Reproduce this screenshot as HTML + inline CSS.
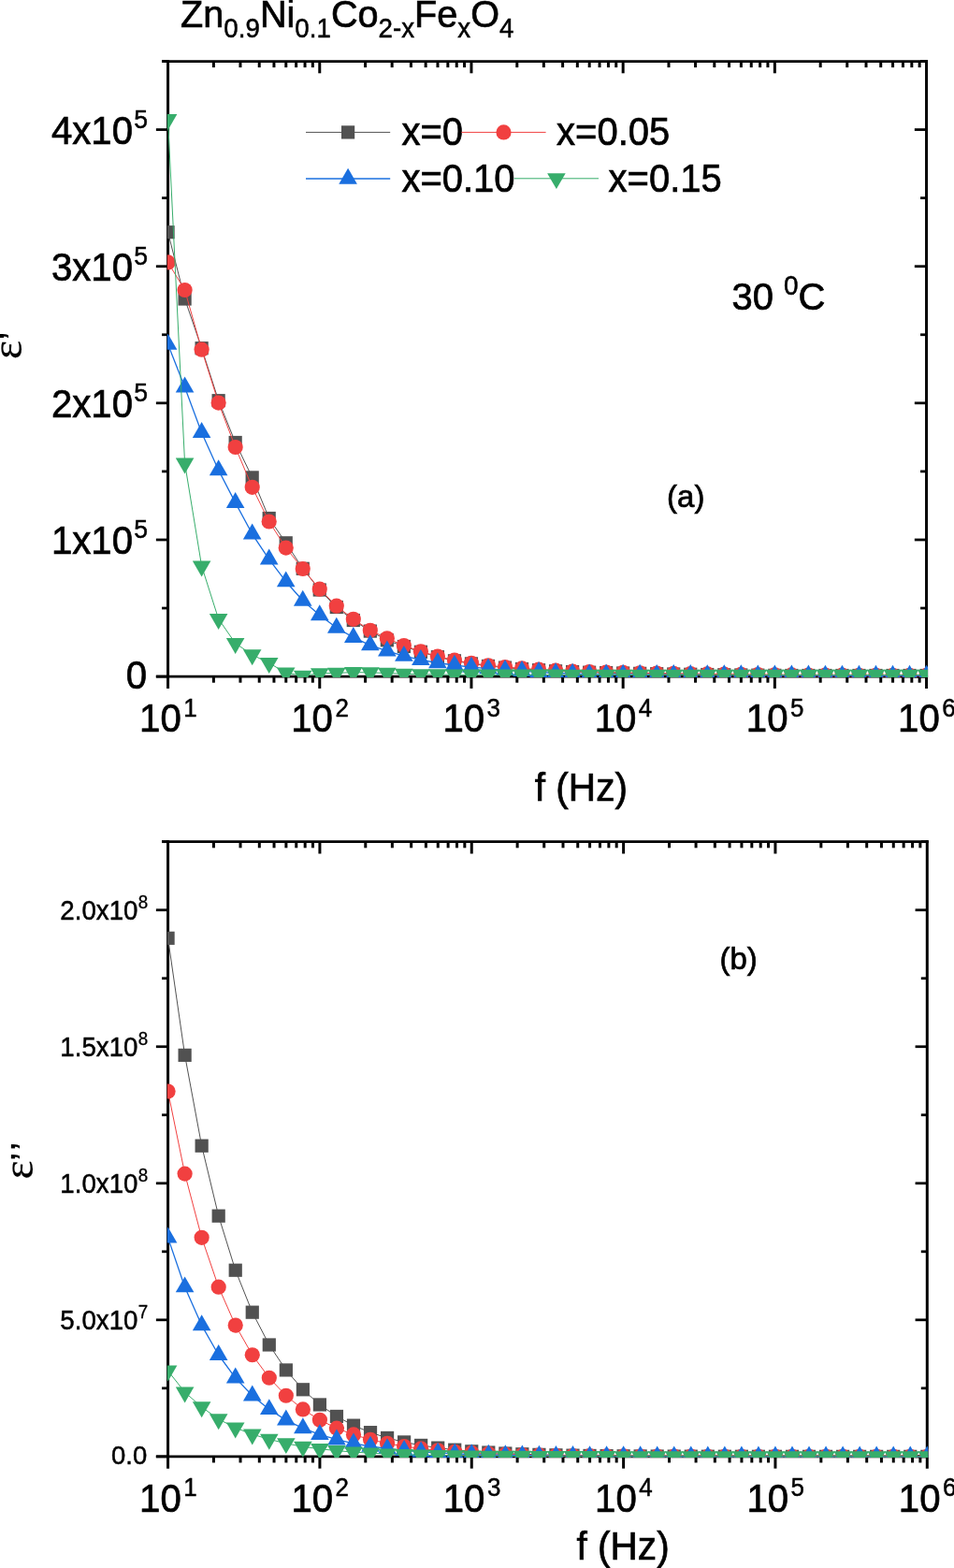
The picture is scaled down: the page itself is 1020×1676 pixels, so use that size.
<!DOCTYPE html>
<html><head><meta charset="utf-8"><title>Dielectric plots</title>
<style>html,body{margin:0;padding:0;background:#fff}svg{display:block}text{font-family:'Liberation Sans',Arial,sans-serif;fill:#000;stroke:#000}text.sf{font-family:'Liberation Serif','Times New Roman',serif}</style></head><body>
<svg width="1020" height="1676" viewBox="0 0 1020 1676">
<rect width="1020" height="1676" fill="#fff"/>
<defs><clipPath id="c1"><rect x="178.77" y="65.5" width="813.28" height="658.5"/></clipPath>
<clipPath id="c2"><rect x="178.77" y="899.7" width="813.58" height="658.2"/></clipPath></defs>
<text transform="translate(193.1,29.4) scale(1,1.035)" font-size="39.65" stroke-width="0.69">Zn<tspan font-size="27.75" stroke-width="0.49" dy="10.63">0.9</tspan><tspan dy="-10.63">Ni</tspan><tspan font-size="27.75" stroke-width="0.49" dy="10.63">0.1</tspan><tspan dy="-10.63">Co</tspan><tspan font-size="27.75" stroke-width="0.49" dy="10.63">2-x</tspan><tspan dy="-10.63">Fe</tspan><tspan font-size="27.75" stroke-width="0.49" dy="10.63">x</tspan><tspan dy="-10.63">O</tspan><tspan font-size="27.75" stroke-width="0.49" dy="10.63">4</tspan></text>
<g stroke="#000" stroke-width="3" fill="none" stroke-linecap="butt">
<line x1="179.57" y1="64.13" x2="179.57" y2="735.9"/>
<line x1="990.55" y1="64.13" x2="990.55" y2="735.9"/>
<line x1="173.07" y1="65.5" x2="992.05" y2="65.5" stroke-width="2.75"/>
<line x1="166.87" y1="723.1" x2="992.05" y2="723.1" stroke-width="2.75"/>
<line x1="228.4" y1="723.1" x2="228.4" y2="729.7"/>
<line x1="228.4" y1="65.5" x2="228.4" y2="72.1"/>
<line x1="256.96" y1="723.1" x2="256.96" y2="729.7"/>
<line x1="256.96" y1="65.5" x2="256.96" y2="72.1"/>
<line x1="277.22" y1="723.1" x2="277.22" y2="729.7"/>
<line x1="277.22" y1="65.5" x2="277.22" y2="72.1"/>
<line x1="292.94" y1="723.1" x2="292.94" y2="729.7"/>
<line x1="292.94" y1="65.5" x2="292.94" y2="72.1"/>
<line x1="305.78" y1="723.1" x2="305.78" y2="729.7"/>
<line x1="305.78" y1="65.5" x2="305.78" y2="72.1"/>
<line x1="316.64" y1="723.1" x2="316.64" y2="729.7"/>
<line x1="316.64" y1="65.5" x2="316.64" y2="72.1"/>
<line x1="326.05" y1="723.1" x2="326.05" y2="729.7"/>
<line x1="326.05" y1="65.5" x2="326.05" y2="72.1"/>
<line x1="334.34" y1="723.1" x2="334.34" y2="729.7"/>
<line x1="334.34" y1="65.5" x2="334.34" y2="72.1"/>
<line x1="341.77" y1="723.1" x2="341.77" y2="735.9"/>
<line x1="341.77" y1="65.5" x2="341.77" y2="78.3"/>
<line x1="390.59" y1="723.1" x2="390.59" y2="729.7"/>
<line x1="390.59" y1="65.5" x2="390.59" y2="72.1"/>
<line x1="419.15" y1="723.1" x2="419.15" y2="729.7"/>
<line x1="419.15" y1="65.5" x2="419.15" y2="72.1"/>
<line x1="439.42" y1="723.1" x2="439.42" y2="729.7"/>
<line x1="439.42" y1="65.5" x2="439.42" y2="72.1"/>
<line x1="455.14" y1="723.1" x2="455.14" y2="729.7"/>
<line x1="455.14" y1="65.5" x2="455.14" y2="72.1"/>
<line x1="467.98" y1="723.1" x2="467.98" y2="729.7"/>
<line x1="467.98" y1="65.5" x2="467.98" y2="72.1"/>
<line x1="478.84" y1="723.1" x2="478.84" y2="729.7"/>
<line x1="478.84" y1="65.5" x2="478.84" y2="72.1"/>
<line x1="488.24" y1="723.1" x2="488.24" y2="729.7"/>
<line x1="488.24" y1="65.5" x2="488.24" y2="72.1"/>
<line x1="496.54" y1="723.1" x2="496.54" y2="729.7"/>
<line x1="496.54" y1="65.5" x2="496.54" y2="72.1"/>
<line x1="503.96" y1="723.1" x2="503.96" y2="735.9"/>
<line x1="503.96" y1="65.5" x2="503.96" y2="78.3"/>
<line x1="552.79" y1="723.1" x2="552.79" y2="729.7"/>
<line x1="552.79" y1="65.5" x2="552.79" y2="72.1"/>
<line x1="581.35" y1="723.1" x2="581.35" y2="729.7"/>
<line x1="581.35" y1="65.5" x2="581.35" y2="72.1"/>
<line x1="601.61" y1="723.1" x2="601.61" y2="729.7"/>
<line x1="601.61" y1="65.5" x2="601.61" y2="72.1"/>
<line x1="617.33" y1="723.1" x2="617.33" y2="729.7"/>
<line x1="617.33" y1="65.5" x2="617.33" y2="72.1"/>
<line x1="630.18" y1="723.1" x2="630.18" y2="729.7"/>
<line x1="630.18" y1="65.5" x2="630.18" y2="72.1"/>
<line x1="641.03" y1="723.1" x2="641.03" y2="729.7"/>
<line x1="641.03" y1="65.5" x2="641.03" y2="72.1"/>
<line x1="650.44" y1="723.1" x2="650.44" y2="729.7"/>
<line x1="650.44" y1="65.5" x2="650.44" y2="72.1"/>
<line x1="658.74" y1="723.1" x2="658.74" y2="729.7"/>
<line x1="658.74" y1="65.5" x2="658.74" y2="72.1"/>
<line x1="666.16" y1="723.1" x2="666.16" y2="735.9"/>
<line x1="666.16" y1="65.5" x2="666.16" y2="78.3"/>
<line x1="714.98" y1="723.1" x2="714.98" y2="729.7"/>
<line x1="714.98" y1="65.5" x2="714.98" y2="72.1"/>
<line x1="743.55" y1="723.1" x2="743.55" y2="729.7"/>
<line x1="743.55" y1="65.5" x2="743.55" y2="72.1"/>
<line x1="763.81" y1="723.1" x2="763.81" y2="729.7"/>
<line x1="763.81" y1="65.5" x2="763.81" y2="72.1"/>
<line x1="779.53" y1="723.1" x2="779.53" y2="729.7"/>
<line x1="779.53" y1="65.5" x2="779.53" y2="72.1"/>
<line x1="792.37" y1="723.1" x2="792.37" y2="729.7"/>
<line x1="792.37" y1="65.5" x2="792.37" y2="72.1"/>
<line x1="803.23" y1="723.1" x2="803.23" y2="729.7"/>
<line x1="803.23" y1="65.5" x2="803.23" y2="72.1"/>
<line x1="812.64" y1="723.1" x2="812.64" y2="729.7"/>
<line x1="812.64" y1="65.5" x2="812.64" y2="72.1"/>
<line x1="820.93" y1="723.1" x2="820.93" y2="729.7"/>
<line x1="820.93" y1="65.5" x2="820.93" y2="72.1"/>
<line x1="828.35" y1="723.1" x2="828.35" y2="735.9"/>
<line x1="828.35" y1="65.5" x2="828.35" y2="78.3"/>
<line x1="877.18" y1="723.1" x2="877.18" y2="729.7"/>
<line x1="877.18" y1="65.5" x2="877.18" y2="72.1"/>
<line x1="905.74" y1="723.1" x2="905.74" y2="729.7"/>
<line x1="905.74" y1="65.5" x2="905.74" y2="72.1"/>
<line x1="926.01" y1="723.1" x2="926.01" y2="729.7"/>
<line x1="926.01" y1="65.5" x2="926.01" y2="72.1"/>
<line x1="941.72" y1="723.1" x2="941.72" y2="729.7"/>
<line x1="941.72" y1="65.5" x2="941.72" y2="72.1"/>
<line x1="954.57" y1="723.1" x2="954.57" y2="729.7"/>
<line x1="954.57" y1="65.5" x2="954.57" y2="72.1"/>
<line x1="965.43" y1="723.1" x2="965.43" y2="729.7"/>
<line x1="965.43" y1="65.5" x2="965.43" y2="72.1"/>
<line x1="974.83" y1="723.1" x2="974.83" y2="729.7"/>
<line x1="974.83" y1="65.5" x2="974.83" y2="72.1"/>
<line x1="983.13" y1="723.1" x2="983.13" y2="729.7"/>
<line x1="983.13" y1="65.5" x2="983.13" y2="72.1"/>
<line x1="166.87" y1="723.1" x2="179.57" y2="723.1" stroke-width="2.75"/>
<line x1="977.85" y1="723.1" x2="990.55" y2="723.1" stroke-width="2.75"/>
<line x1="166.87" y1="576.97" x2="179.57" y2="576.97" stroke-width="2.75"/>
<line x1="977.85" y1="576.97" x2="990.55" y2="576.97" stroke-width="2.75"/>
<line x1="166.87" y1="430.83" x2="179.57" y2="430.83" stroke-width="2.75"/>
<line x1="977.85" y1="430.83" x2="990.55" y2="430.83" stroke-width="2.75"/>
<line x1="166.87" y1="284.7" x2="179.57" y2="284.7" stroke-width="2.75"/>
<line x1="977.85" y1="284.7" x2="990.55" y2="284.7" stroke-width="2.75"/>
<line x1="166.87" y1="138.57" x2="179.57" y2="138.57" stroke-width="2.75"/>
<line x1="977.85" y1="138.57" x2="990.55" y2="138.57" stroke-width="2.75"/>
<line x1="173.07" y1="650.03" x2="179.57" y2="650.03" stroke-width="2.75"/>
<line x1="984.05" y1="650.03" x2="990.55" y2="650.03" stroke-width="2.75"/>
<line x1="173.07" y1="503.9" x2="179.57" y2="503.9" stroke-width="2.75"/>
<line x1="984.05" y1="503.9" x2="990.55" y2="503.9" stroke-width="2.75"/>
<line x1="173.07" y1="357.77" x2="179.57" y2="357.77" stroke-width="2.75"/>
<line x1="984.05" y1="357.77" x2="990.55" y2="357.77" stroke-width="2.75"/>
<line x1="173.07" y1="211.63" x2="179.57" y2="211.63" stroke-width="2.75"/>
<line x1="984.05" y1="211.63" x2="990.55" y2="211.63" stroke-width="2.75"/>
<line x1="173.07" y1="65.5" x2="179.57" y2="65.5" stroke-width="2.75"/>
<line x1="984.05" y1="65.5" x2="990.55" y2="65.5" stroke-width="2.75"/>
</g>
<text transform="translate(157,735.6) scale(1,1.035)" font-size="40.2" text-anchor="end" stroke-width="0.7">0</text>
<text transform="translate(158,592.37) scale(1,1.035)" font-size="40.2" text-anchor="end" stroke-width="0.7">1x10<tspan font-size="26.6" stroke-width="0.47" dx="1.2" dy="-16.81">5</tspan></text>
<text transform="translate(158,446.23) scale(1,1.035)" font-size="40.2" text-anchor="end" stroke-width="0.7">2x10<tspan font-size="26.6" stroke-width="0.47" dx="1.2" dy="-16.81">5</tspan></text>
<text transform="translate(158,300.1) scale(1,1.035)" font-size="40.2" text-anchor="end" stroke-width="0.7">3x10<tspan font-size="26.6" stroke-width="0.47" dx="1.2" dy="-16.81">5</tspan></text>
<text transform="translate(158,153.97) scale(1,1.035)" font-size="40.2" text-anchor="end" stroke-width="0.7">4x10<tspan font-size="26.6" stroke-width="0.47" dx="1.2" dy="-16.81">5</tspan></text>
<text transform="translate(179.87,782.3) scale(1,1.035)" font-size="40.2" text-anchor="middle" stroke-width="0.7">10<tspan font-size="26" stroke-width="0.46" dx="2.5" dy="-16.14">1</tspan></text>
<text transform="translate(342.07,782.3) scale(1,1.035)" font-size="40.2" text-anchor="middle" stroke-width="0.7">10<tspan font-size="26" stroke-width="0.46" dx="2.5" dy="-16.14">2</tspan></text>
<text transform="translate(504.26,782.3) scale(1,1.035)" font-size="40.2" text-anchor="middle" stroke-width="0.7">10<tspan font-size="26" stroke-width="0.46" dx="2.5" dy="-16.14">3</tspan></text>
<text transform="translate(666.46,782.3) scale(1,1.035)" font-size="40.2" text-anchor="middle" stroke-width="0.7">10<tspan font-size="26" stroke-width="0.46" dx="2.5" dy="-16.14">4</tspan></text>
<text transform="translate(828.65,782.3) scale(1,1.035)" font-size="40.2" text-anchor="middle" stroke-width="0.7">10<tspan font-size="26" stroke-width="0.46" dx="2.5" dy="-16.14">5</tspan></text>
<text transform="translate(990.85,782.3) scale(1,1.035)" font-size="40.2" text-anchor="middle" stroke-width="0.7">10<tspan font-size="26" stroke-width="0.46" dx="2.5" dy="-16.14">6</tspan></text>
<text transform="translate(571.8,856) scale(1,1.035)" font-size="40.6" stroke-width="0.71">f (Hz)</text>
<text class="sf" transform="translate(23,384) rotate(-90) scale(1,0.945)" font-size="48" stroke-width="0.2">ε</text>
<text transform="translate(28.4,363.5) rotate(-90)" font-size="40" stroke-width="0.3">’</text>
<line x1="327" y1="141.4" x2="417.2" y2="141.4" stroke="#515151" stroke-width="1.0"/><rect x="365" y="134.3" width="14.2" height="14.2" fill="#515151"/><text transform="translate(429.4,155.2) scale(1,1.05)" font-size="40" stroke-width="0.7">x=0</text>
<line x1="493.4" y1="141.4" x2="583.6" y2="141.4" stroke="#F14040" stroke-width="1.0"/><circle cx="538.5" cy="141.4" r="8.1" fill="#F14040"/><text transform="translate(595.1,155.2) scale(1,1.05)" font-size="40" stroke-width="0.7">x=0.05</text>
<line x1="327" y1="191" x2="417.2" y2="191" stroke="#1A6FDF" stroke-width="1.3"/><polygon points="362.3,196.66 381.9,196.66 372.1,179.68" fill="#1A6FDF"/><text transform="translate(429.4,204.8) scale(1,1.05)" font-size="40" stroke-width="0.7">x=0.10</text>
<line x1="549.8" y1="190.8" x2="640" y2="190.8" stroke="#37AD6B" stroke-width="1.0"/><polygon points="585.1,185.14 604.7,185.14 594.9,202.12" fill="#37AD6B"/><text transform="translate(650.6,204.6) scale(1,1.05)" font-size="40" stroke-width="0.7">x=0.15</text>
<text transform="translate(782.4,330.7) scale(1,1.035)" font-size="40" stroke-width="0.7">30 <tspan font-size="28" stroke-width="0.49" dx="0" dy="-15.07">0</tspan><tspan dy="15.07">C</tspan></text>
<text transform="translate(733.2,542.1) scale(1,1.035)" font-size="33" text-anchor="middle" stroke-width="0.7">(a)</text>
<g clip-path="url(#c1)">
<polyline points="179.57,248.2 197.59,319.5 215.61,372.2 233.64,428.2 251.66,473 269.68,510.4 287.7,554 305.72,580.3 323.74,607.8 341.77,630.5 359.79,649 377.81,663 395.83,674.6 413.85,684.3 431.87,691 449.9,696.8 467.92,702.2 485.94,706.3 503.96,709.4 521.98,711.9 540.01,713.6 558.03,715 576.05,716.2 594.07,717.3 612.09,718.1 630.11,718.7 648.14,719.11 666.16,719.49 684.18,719.84 702.2,720.17 720.22,720.48 738.25,720.77 756.27,721.03 774.29,721.26 792.31,721.48 810.33,721.67 828.35,721.84 846.38,721.99 864.4,722 882.42,722 900.44,722 918.46,722 936.48,722 954.51,722 972.53,722 990.55,722" fill="none" stroke="#515151" stroke-width="1.0" stroke-linejoin="round"/>
<rect x="172.47" y="241.1" width="14.2" height="14.2" fill="#515151"/>
<rect x="190.49" y="312.4" width="14.2" height="14.2" fill="#515151"/>
<rect x="208.51" y="365.1" width="14.2" height="14.2" fill="#515151"/>
<rect x="226.54" y="421.1" width="14.2" height="14.2" fill="#515151"/>
<rect x="244.56" y="465.9" width="14.2" height="14.2" fill="#515151"/>
<rect x="262.58" y="503.3" width="14.2" height="14.2" fill="#515151"/>
<rect x="280.6" y="546.9" width="14.2" height="14.2" fill="#515151"/>
<rect x="298.62" y="573.2" width="14.2" height="14.2" fill="#515151"/>
<rect x="316.64" y="600.7" width="14.2" height="14.2" fill="#515151"/>
<rect x="334.67" y="623.4" width="14.2" height="14.2" fill="#515151"/>
<rect x="352.69" y="641.9" width="14.2" height="14.2" fill="#515151"/>
<rect x="370.71" y="655.9" width="14.2" height="14.2" fill="#515151"/>
<rect x="388.73" y="667.5" width="14.2" height="14.2" fill="#515151"/>
<rect x="406.75" y="677.2" width="14.2" height="14.2" fill="#515151"/>
<rect x="424.77" y="683.9" width="14.2" height="14.2" fill="#515151"/>
<rect x="442.8" y="689.7" width="14.2" height="14.2" fill="#515151"/>
<rect x="460.82" y="695.1" width="14.2" height="14.2" fill="#515151"/>
<rect x="478.84" y="699.2" width="14.2" height="14.2" fill="#515151"/>
<rect x="496.86" y="702.3" width="14.2" height="14.2" fill="#515151"/>
<rect x="514.88" y="704.8" width="14.2" height="14.2" fill="#515151"/>
<rect x="532.91" y="706.5" width="14.2" height="14.2" fill="#515151"/>
<rect x="550.93" y="707.9" width="14.2" height="14.2" fill="#515151"/>
<rect x="568.95" y="709.1" width="14.2" height="14.2" fill="#515151"/>
<rect x="586.97" y="710.2" width="14.2" height="14.2" fill="#515151"/>
<rect x="604.99" y="711" width="14.2" height="14.2" fill="#515151"/>
<rect x="623.01" y="711.6" width="14.2" height="14.2" fill="#515151"/>
<rect x="641.04" y="712.01" width="14.2" height="14.2" fill="#515151"/>
<rect x="659.06" y="712.39" width="14.2" height="14.2" fill="#515151"/>
<rect x="677.08" y="712.74" width="14.2" height="14.2" fill="#515151"/>
<rect x="695.1" y="713.07" width="14.2" height="14.2" fill="#515151"/>
<rect x="713.12" y="713.38" width="14.2" height="14.2" fill="#515151"/>
<rect x="731.15" y="713.67" width="14.2" height="14.2" fill="#515151"/>
<rect x="749.17" y="713.93" width="14.2" height="14.2" fill="#515151"/>
<rect x="767.19" y="714.16" width="14.2" height="14.2" fill="#515151"/>
<rect x="785.21" y="714.38" width="14.2" height="14.2" fill="#515151"/>
<rect x="803.23" y="714.57" width="14.2" height="14.2" fill="#515151"/>
<rect x="821.25" y="714.74" width="14.2" height="14.2" fill="#515151"/>
<rect x="839.28" y="714.89" width="14.2" height="14.2" fill="#515151"/>
<rect x="857.3" y="714.9" width="14.2" height="14.2" fill="#515151"/>
<rect x="875.32" y="714.9" width="14.2" height="14.2" fill="#515151"/>
<rect x="893.34" y="714.9" width="14.2" height="14.2" fill="#515151"/>
<rect x="911.36" y="714.9" width="14.2" height="14.2" fill="#515151"/>
<rect x="929.38" y="714.9" width="14.2" height="14.2" fill="#515151"/>
<rect x="947.41" y="714.9" width="14.2" height="14.2" fill="#515151"/>
<rect x="965.43" y="714.9" width="14.2" height="14.2" fill="#515151"/>
<rect x="983.45" y="714.9" width="14.2" height="14.2" fill="#515151"/>
<polyline points="179.57,280.4 197.59,310 215.61,373.7 233.64,430.6 251.66,478 269.68,520.8 287.7,557.5 305.72,585.6 323.74,608 341.77,629.7 359.79,647.7 377.81,661.8 395.83,673.8 413.85,682.3 431.87,690 449.9,696.3 467.92,701.6 485.94,705.7 503.96,708.8 521.98,711.3 540.01,713 558.03,714.4 576.05,715.6 594.07,716.7 612.09,717.5 630.11,718.1 648.14,718.51 666.16,718.89 684.18,719.24 702.2,719.57 720.22,719.88 738.25,720.17 756.27,720.43 774.29,720.66 792.31,720.88 810.33,721.07 828.35,721.24 846.38,721.39 864.4,721.52 882.42,721.63 900.44,721.72 918.46,721.79 936.48,721.84 954.51,721.88 972.53,721.89 990.55,721.9" fill="none" stroke="#F14040" stroke-width="1.0" stroke-linejoin="round"/>
<circle cx="179.57" cy="280.4" r="8.1" fill="#F14040"/>
<circle cx="197.59" cy="310" r="8.1" fill="#F14040"/>
<circle cx="215.61" cy="373.7" r="8.1" fill="#F14040"/>
<circle cx="233.64" cy="430.6" r="8.1" fill="#F14040"/>
<circle cx="251.66" cy="478" r="8.1" fill="#F14040"/>
<circle cx="269.68" cy="520.8" r="8.1" fill="#F14040"/>
<circle cx="287.7" cy="557.5" r="8.1" fill="#F14040"/>
<circle cx="305.72" cy="585.6" r="8.1" fill="#F14040"/>
<circle cx="323.74" cy="608" r="8.1" fill="#F14040"/>
<circle cx="341.77" cy="629.7" r="8.1" fill="#F14040"/>
<circle cx="359.79" cy="647.7" r="8.1" fill="#F14040"/>
<circle cx="377.81" cy="661.8" r="8.1" fill="#F14040"/>
<circle cx="395.83" cy="673.8" r="8.1" fill="#F14040"/>
<circle cx="413.85" cy="682.3" r="8.1" fill="#F14040"/>
<circle cx="431.87" cy="690" r="8.1" fill="#F14040"/>
<circle cx="449.9" cy="696.3" r="8.1" fill="#F14040"/>
<circle cx="467.92" cy="701.6" r="8.1" fill="#F14040"/>
<circle cx="485.94" cy="705.7" r="8.1" fill="#F14040"/>
<circle cx="503.96" cy="708.8" r="8.1" fill="#F14040"/>
<circle cx="521.98" cy="711.3" r="8.1" fill="#F14040"/>
<circle cx="540.01" cy="713" r="8.1" fill="#F14040"/>
<circle cx="558.03" cy="714.4" r="8.1" fill="#F14040"/>
<circle cx="576.05" cy="715.6" r="8.1" fill="#F14040"/>
<circle cx="594.07" cy="716.7" r="8.1" fill="#F14040"/>
<circle cx="612.09" cy="717.5" r="8.1" fill="#F14040"/>
<circle cx="630.11" cy="718.1" r="8.1" fill="#F14040"/>
<circle cx="648.14" cy="718.51" r="8.1" fill="#F14040"/>
<circle cx="666.16" cy="718.89" r="8.1" fill="#F14040"/>
<circle cx="684.18" cy="719.24" r="8.1" fill="#F14040"/>
<circle cx="702.2" cy="719.57" r="8.1" fill="#F14040"/>
<circle cx="720.22" cy="719.88" r="8.1" fill="#F14040"/>
<circle cx="738.25" cy="720.17" r="8.1" fill="#F14040"/>
<circle cx="756.27" cy="720.43" r="8.1" fill="#F14040"/>
<circle cx="774.29" cy="720.66" r="8.1" fill="#F14040"/>
<circle cx="792.31" cy="720.88" r="8.1" fill="#F14040"/>
<circle cx="810.33" cy="721.07" r="8.1" fill="#F14040"/>
<circle cx="828.35" cy="721.24" r="8.1" fill="#F14040"/>
<circle cx="846.38" cy="721.39" r="8.1" fill="#F14040"/>
<circle cx="864.4" cy="721.52" r="8.1" fill="#F14040"/>
<circle cx="882.42" cy="721.63" r="8.1" fill="#F14040"/>
<circle cx="900.44" cy="721.72" r="8.1" fill="#F14040"/>
<circle cx="918.46" cy="721.79" r="8.1" fill="#F14040"/>
<circle cx="936.48" cy="721.84" r="8.1" fill="#F14040"/>
<circle cx="954.51" cy="721.88" r="8.1" fill="#F14040"/>
<circle cx="972.53" cy="721.89" r="8.1" fill="#F14040"/>
<circle cx="990.55" cy="721.9" r="8.1" fill="#F14040"/>
<polyline points="179.57,368 197.59,413.9 215.61,462.4 233.64,502.5 251.66,537.4 269.68,570.8 287.7,597.9 305.72,621.7 323.74,642 341.77,657.5 359.79,671.1 377.81,681.3 395.83,689.6 413.85,695.8 431.87,701.2 449.9,705.4 467.92,708.5 485.94,711 503.96,713.1 521.98,714.7 540.01,716.4 558.03,717.4 576.05,718.4 594.07,719.5 612.09,720.1 630.11,720.7 648.14,720.84 666.16,720.97 684.18,721.09 702.2,721.2 720.22,721.31 738.25,721.41 756.27,721.51 774.29,721.6 792.31,721.68 810.33,721.75 828.35,721.82 846.38,721.88 864.4,721.93 882.42,721.97 900.44,722.01 918.46,722.04 936.48,722.07 954.51,722.09 972.53,722.1 990.55,722.1" fill="none" stroke="#1A6FDF" stroke-width="1.3" stroke-linejoin="round"/>
<polygon points="169.77,373.66 189.37,373.66 179.57,356.68" fill="#1A6FDF"/>
<polygon points="187.79,419.56 207.39,419.56 197.59,402.58" fill="#1A6FDF"/>
<polygon points="205.81,468.06 225.41,468.06 215.61,451.08" fill="#1A6FDF"/>
<polygon points="223.84,508.16 243.44,508.16 233.64,491.18" fill="#1A6FDF"/>
<polygon points="241.86,543.06 261.46,543.06 251.66,526.08" fill="#1A6FDF"/>
<polygon points="259.88,576.46 279.48,576.46 269.68,559.48" fill="#1A6FDF"/>
<polygon points="277.9,603.56 297.5,603.56 287.7,586.58" fill="#1A6FDF"/>
<polygon points="295.92,627.36 315.52,627.36 305.72,610.38" fill="#1A6FDF"/>
<polygon points="313.94,647.66 333.54,647.66 323.74,630.68" fill="#1A6FDF"/>
<polygon points="331.97,663.16 351.57,663.16 341.77,646.18" fill="#1A6FDF"/>
<polygon points="349.99,676.76 369.59,676.76 359.79,659.78" fill="#1A6FDF"/>
<polygon points="368.01,686.96 387.61,686.96 377.81,669.98" fill="#1A6FDF"/>
<polygon points="386.03,695.26 405.63,695.26 395.83,678.28" fill="#1A6FDF"/>
<polygon points="404.05,701.46 423.65,701.46 413.85,684.48" fill="#1A6FDF"/>
<polygon points="422.07,706.86 441.67,706.86 431.87,689.88" fill="#1A6FDF"/>
<polygon points="440.1,711.06 459.7,711.06 449.9,694.08" fill="#1A6FDF"/>
<polygon points="458.12,714.16 477.72,714.16 467.92,697.18" fill="#1A6FDF"/>
<polygon points="476.14,716.66 495.74,716.66 485.94,699.68" fill="#1A6FDF"/>
<polygon points="494.16,718.76 513.76,718.76 503.96,701.78" fill="#1A6FDF"/>
<polygon points="512.18,720.36 531.78,720.36 521.98,703.38" fill="#1A6FDF"/>
<polygon points="530.21,722.06 549.81,722.06 540.01,705.08" fill="#1A6FDF"/>
<polygon points="548.23,723.06 567.83,723.06 558.03,706.08" fill="#1A6FDF"/>
<polygon points="566.25,724.06 585.85,724.06 576.05,707.08" fill="#1A6FDF"/>
<polygon points="584.27,725.16 603.87,725.16 594.07,708.18" fill="#1A6FDF"/>
<polygon points="602.29,725.76 621.89,725.76 612.09,708.78" fill="#1A6FDF"/>
<polygon points="620.31,726.36 639.91,726.36 630.11,709.38" fill="#1A6FDF"/>
<polygon points="638.34,726.49 657.94,726.49 648.14,709.52" fill="#1A6FDF"/>
<polygon points="656.36,726.62 675.96,726.62 666.16,709.65" fill="#1A6FDF"/>
<polygon points="674.38,726.75 693.98,726.75 684.18,709.77" fill="#1A6FDF"/>
<polygon points="692.4,726.86 712,726.86 702.2,709.89" fill="#1A6FDF"/>
<polygon points="710.42,726.97 730.02,726.97 720.22,710" fill="#1A6FDF"/>
<polygon points="728.45,727.07 748.05,727.07 738.25,710.1" fill="#1A6FDF"/>
<polygon points="746.47,727.17 766.07,727.17 756.27,710.19" fill="#1A6FDF"/>
<polygon points="764.49,727.25 784.09,727.25 774.29,710.28" fill="#1A6FDF"/>
<polygon points="782.51,727.33 802.11,727.33 792.31,710.36" fill="#1A6FDF"/>
<polygon points="800.53,727.41 820.13,727.41 810.33,710.43" fill="#1A6FDF"/>
<polygon points="818.55,727.47 838.15,727.47 828.35,710.5" fill="#1A6FDF"/>
<polygon points="836.58,727.53 856.18,727.53 846.38,710.56" fill="#1A6FDF"/>
<polygon points="854.6,727.59 874.2,727.59 864.4,710.61" fill="#1A6FDF"/>
<polygon points="872.62,727.63 892.22,727.63 882.42,710.66" fill="#1A6FDF"/>
<polygon points="890.64,727.67 910.24,727.67 900.44,710.7" fill="#1A6FDF"/>
<polygon points="908.66,727.7 928.26,727.7 918.46,710.73" fill="#1A6FDF"/>
<polygon points="926.68,727.73 946.28,727.73 936.48,710.75" fill="#1A6FDF"/>
<polygon points="944.71,727.74 964.31,727.74 954.51,710.77" fill="#1A6FDF"/>
<polygon points="962.73,727.75 982.33,727.75 972.53,710.78" fill="#1A6FDF"/>
<polygon points="980.75,727.76 1000.35,727.76 990.55,710.78" fill="#1A6FDF"/>
<polyline points="179.57,127.7 197.59,495.1 215.61,605.1 233.64,661.6 251.66,687.6 269.68,699.9 287.7,708.7 305.72,719.2 323.74,722.3 341.77,719.8 359.79,719.4 377.81,718.6 395.83,718.9 413.85,719.5 431.87,720.3 449.9,720.8 467.92,721 485.94,721.2 503.96,721.21 521.98,721.23 540.01,721.24 558.03,721.25 576.05,721.27 594.07,721.28 612.09,721.29 630.11,721.3 648.14,721.31 666.16,721.32 684.18,721.33 702.2,721.33 720.22,721.34 738.25,721.35 756.27,721.36 774.29,721.36 792.31,721.37 810.33,721.37 828.35,721.38 846.38,721.38 864.4,721.39 882.42,721.39 900.44,721.39 918.46,721.4 936.48,721.4 954.51,721.4 972.53,721.4 990.55,721.4" fill="none" stroke="#37AD6B" stroke-width="1.0" stroke-linejoin="round"/>
<polygon points="169.77,122.04 189.37,122.04 179.57,139.02" fill="#37AD6B"/>
<polygon points="187.79,489.44 207.39,489.44 197.59,506.42" fill="#37AD6B"/>
<polygon points="205.81,599.44 225.41,599.44 215.61,616.42" fill="#37AD6B"/>
<polygon points="223.84,655.94 243.44,655.94 233.64,672.92" fill="#37AD6B"/>
<polygon points="241.86,681.94 261.46,681.94 251.66,698.92" fill="#37AD6B"/>
<polygon points="259.88,694.24 279.48,694.24 269.68,711.22" fill="#37AD6B"/>
<polygon points="277.9,703.04 297.5,703.04 287.7,720.02" fill="#37AD6B"/>
<polygon points="295.92,713.54 315.52,713.54 305.72,730.52" fill="#37AD6B"/>
<polygon points="313.94,716.64 333.54,716.64 323.74,733.62" fill="#37AD6B"/>
<polygon points="331.97,714.14 351.57,714.14 341.77,731.12" fill="#37AD6B"/>
<polygon points="349.99,713.74 369.59,713.74 359.79,730.72" fill="#37AD6B"/>
<polygon points="368.01,712.94 387.61,712.94 377.81,729.92" fill="#37AD6B"/>
<polygon points="386.03,713.24 405.63,713.24 395.83,730.22" fill="#37AD6B"/>
<polygon points="404.05,713.84 423.65,713.84 413.85,730.82" fill="#37AD6B"/>
<polygon points="422.07,714.64 441.67,714.64 431.87,731.62" fill="#37AD6B"/>
<polygon points="440.1,715.14 459.7,715.14 449.9,732.12" fill="#37AD6B"/>
<polygon points="458.12,715.34 477.72,715.34 467.92,732.32" fill="#37AD6B"/>
<polygon points="476.14,715.54 495.74,715.54 485.94,732.52" fill="#37AD6B"/>
<polygon points="494.16,715.56 513.76,715.56 503.96,732.53" fill="#37AD6B"/>
<polygon points="512.18,715.57 531.78,715.57 521.98,732.54" fill="#37AD6B"/>
<polygon points="530.21,715.58 549.81,715.58 540.01,732.56" fill="#37AD6B"/>
<polygon points="548.23,715.6 567.83,715.6 558.03,732.57" fill="#37AD6B"/>
<polygon points="566.25,715.61 585.85,715.61 576.05,732.58" fill="#37AD6B"/>
<polygon points="584.27,715.62 603.87,715.62 594.07,732.59" fill="#37AD6B"/>
<polygon points="602.29,715.63 621.89,715.63 612.09,732.6" fill="#37AD6B"/>
<polygon points="620.31,715.64 639.91,715.64 630.11,732.61" fill="#37AD6B"/>
<polygon points="638.34,715.65 657.94,715.65 648.14,732.62" fill="#37AD6B"/>
<polygon points="656.36,715.66 675.96,715.66 666.16,732.63" fill="#37AD6B"/>
<polygon points="674.38,715.67 693.98,715.67 684.18,732.64" fill="#37AD6B"/>
<polygon points="692.4,715.68 712,715.68 702.2,732.65" fill="#37AD6B"/>
<polygon points="710.42,715.68 730.02,715.68 720.22,732.66" fill="#37AD6B"/>
<polygon points="728.45,715.69 748.05,715.69 738.25,732.67" fill="#37AD6B"/>
<polygon points="746.47,715.7 766.07,715.7 756.27,732.67" fill="#37AD6B"/>
<polygon points="764.49,715.71 784.09,715.71 774.29,732.68" fill="#37AD6B"/>
<polygon points="782.51,715.71 802.11,715.71 792.31,732.68" fill="#37AD6B"/>
<polygon points="800.53,715.72 820.13,715.72 810.33,732.69" fill="#37AD6B"/>
<polygon points="818.55,715.72 838.15,715.72 828.35,732.7" fill="#37AD6B"/>
<polygon points="836.58,715.73 856.18,715.73 846.38,732.7" fill="#37AD6B"/>
<polygon points="854.6,715.73 874.2,715.73 864.4,732.7" fill="#37AD6B"/>
<polygon points="872.62,715.73 892.22,715.73 882.42,732.71" fill="#37AD6B"/>
<polygon points="890.64,715.74 910.24,715.74 900.44,732.71" fill="#37AD6B"/>
<polygon points="908.66,715.74 928.26,715.74 918.46,732.71" fill="#37AD6B"/>
<polygon points="926.68,715.74 946.28,715.74 936.48,732.71" fill="#37AD6B"/>
<polygon points="944.71,715.74 964.31,715.74 954.51,732.71" fill="#37AD6B"/>
<polygon points="962.73,715.74 982.33,715.74 972.53,732.72" fill="#37AD6B"/>
<polygon points="980.75,715.74 1000.35,715.74 990.55,732.72" fill="#37AD6B"/>
</g>
<g stroke="#000" stroke-width="3" fill="none" stroke-linecap="butt">
<line x1="179.57" y1="898.33" x2="179.57" y2="1569.65"/>
<line x1="991.3" y1="898.33" x2="991.3" y2="1569.65"/>
<line x1="173.07" y1="899.7" x2="992.8" y2="899.7" stroke-width="2.75"/>
<line x1="166.87" y1="1556.85" x2="992.8" y2="1556.85" stroke-width="2.75"/>
<line x1="228.44" y1="1556.85" x2="228.44" y2="1563.45"/>
<line x1="228.44" y1="899.7" x2="228.44" y2="906.3"/>
<line x1="257.03" y1="1556.85" x2="257.03" y2="1563.45"/>
<line x1="257.03" y1="899.7" x2="257.03" y2="906.3"/>
<line x1="277.31" y1="1556.85" x2="277.31" y2="1563.45"/>
<line x1="277.31" y1="899.7" x2="277.31" y2="906.3"/>
<line x1="293.04" y1="1556.85" x2="293.04" y2="1563.45"/>
<line x1="293.04" y1="899.7" x2="293.04" y2="906.3"/>
<line x1="305.9" y1="1556.85" x2="305.9" y2="1563.45"/>
<line x1="305.9" y1="899.7" x2="305.9" y2="906.3"/>
<line x1="316.77" y1="1556.85" x2="316.77" y2="1563.45"/>
<line x1="316.77" y1="899.7" x2="316.77" y2="906.3"/>
<line x1="326.18" y1="1556.85" x2="326.18" y2="1563.45"/>
<line x1="326.18" y1="899.7" x2="326.18" y2="906.3"/>
<line x1="334.49" y1="1556.85" x2="334.49" y2="1563.45"/>
<line x1="334.49" y1="899.7" x2="334.49" y2="906.3"/>
<line x1="341.92" y1="1556.85" x2="341.92" y2="1569.65"/>
<line x1="341.92" y1="899.7" x2="341.92" y2="912.5"/>
<line x1="390.79" y1="1556.85" x2="390.79" y2="1563.45"/>
<line x1="390.79" y1="899.7" x2="390.79" y2="906.3"/>
<line x1="419.37" y1="1556.85" x2="419.37" y2="1563.45"/>
<line x1="419.37" y1="899.7" x2="419.37" y2="906.3"/>
<line x1="439.66" y1="1556.85" x2="439.66" y2="1563.45"/>
<line x1="439.66" y1="899.7" x2="439.66" y2="906.3"/>
<line x1="455.39" y1="1556.85" x2="455.39" y2="1563.45"/>
<line x1="455.39" y1="899.7" x2="455.39" y2="906.3"/>
<line x1="468.25" y1="1556.85" x2="468.25" y2="1563.45"/>
<line x1="468.25" y1="899.7" x2="468.25" y2="906.3"/>
<line x1="479.11" y1="1556.85" x2="479.11" y2="1563.45"/>
<line x1="479.11" y1="899.7" x2="479.11" y2="906.3"/>
<line x1="488.53" y1="1556.85" x2="488.53" y2="1563.45"/>
<line x1="488.53" y1="899.7" x2="488.53" y2="906.3"/>
<line x1="496.83" y1="1556.85" x2="496.83" y2="1563.45"/>
<line x1="496.83" y1="899.7" x2="496.83" y2="906.3"/>
<line x1="504.26" y1="1556.85" x2="504.26" y2="1569.65"/>
<line x1="504.26" y1="899.7" x2="504.26" y2="912.5"/>
<line x1="553.13" y1="1556.85" x2="553.13" y2="1563.45"/>
<line x1="553.13" y1="899.7" x2="553.13" y2="906.3"/>
<line x1="581.72" y1="1556.85" x2="581.72" y2="1563.45"/>
<line x1="581.72" y1="899.7" x2="581.72" y2="906.3"/>
<line x1="602" y1="1556.85" x2="602" y2="1563.45"/>
<line x1="602" y1="899.7" x2="602" y2="906.3"/>
<line x1="617.74" y1="1556.85" x2="617.74" y2="1563.45"/>
<line x1="617.74" y1="899.7" x2="617.74" y2="906.3"/>
<line x1="630.59" y1="1556.85" x2="630.59" y2="1563.45"/>
<line x1="630.59" y1="899.7" x2="630.59" y2="906.3"/>
<line x1="641.46" y1="1556.85" x2="641.46" y2="1563.45"/>
<line x1="641.46" y1="899.7" x2="641.46" y2="906.3"/>
<line x1="650.88" y1="1556.85" x2="650.88" y2="1563.45"/>
<line x1="650.88" y1="899.7" x2="650.88" y2="906.3"/>
<line x1="659.18" y1="1556.85" x2="659.18" y2="1563.45"/>
<line x1="659.18" y1="899.7" x2="659.18" y2="906.3"/>
<line x1="666.61" y1="1556.85" x2="666.61" y2="1569.65"/>
<line x1="666.61" y1="899.7" x2="666.61" y2="912.5"/>
<line x1="715.48" y1="1556.85" x2="715.48" y2="1563.45"/>
<line x1="715.48" y1="899.7" x2="715.48" y2="906.3"/>
<line x1="744.07" y1="1556.85" x2="744.07" y2="1563.45"/>
<line x1="744.07" y1="899.7" x2="744.07" y2="906.3"/>
<line x1="764.35" y1="1556.85" x2="764.35" y2="1563.45"/>
<line x1="764.35" y1="899.7" x2="764.35" y2="906.3"/>
<line x1="780.08" y1="1556.85" x2="780.08" y2="1563.45"/>
<line x1="780.08" y1="899.7" x2="780.08" y2="906.3"/>
<line x1="792.94" y1="1556.85" x2="792.94" y2="1563.45"/>
<line x1="792.94" y1="899.7" x2="792.94" y2="906.3"/>
<line x1="803.81" y1="1556.85" x2="803.81" y2="1563.45"/>
<line x1="803.81" y1="899.7" x2="803.81" y2="906.3"/>
<line x1="813.22" y1="1556.85" x2="813.22" y2="1563.45"/>
<line x1="813.22" y1="899.7" x2="813.22" y2="906.3"/>
<line x1="821.53" y1="1556.85" x2="821.53" y2="1563.45"/>
<line x1="821.53" y1="899.7" x2="821.53" y2="906.3"/>
<line x1="828.95" y1="1556.85" x2="828.95" y2="1569.65"/>
<line x1="828.95" y1="899.7" x2="828.95" y2="912.5"/>
<line x1="877.83" y1="1556.85" x2="877.83" y2="1563.45"/>
<line x1="877.83" y1="899.7" x2="877.83" y2="906.3"/>
<line x1="906.41" y1="1556.85" x2="906.41" y2="1563.45"/>
<line x1="906.41" y1="899.7" x2="906.41" y2="906.3"/>
<line x1="926.7" y1="1556.85" x2="926.7" y2="1563.45"/>
<line x1="926.7" y1="899.7" x2="926.7" y2="906.3"/>
<line x1="942.43" y1="1556.85" x2="942.43" y2="1563.45"/>
<line x1="942.43" y1="899.7" x2="942.43" y2="906.3"/>
<line x1="955.28" y1="1556.85" x2="955.28" y2="1563.45"/>
<line x1="955.28" y1="899.7" x2="955.28" y2="906.3"/>
<line x1="966.15" y1="1556.85" x2="966.15" y2="1563.45"/>
<line x1="966.15" y1="899.7" x2="966.15" y2="906.3"/>
<line x1="975.57" y1="1556.85" x2="975.57" y2="1563.45"/>
<line x1="975.57" y1="899.7" x2="975.57" y2="906.3"/>
<line x1="983.87" y1="1556.85" x2="983.87" y2="1563.45"/>
<line x1="983.87" y1="899.7" x2="983.87" y2="906.3"/>
<line x1="166.87" y1="1556.85" x2="179.57" y2="1556.85" stroke-width="2.75"/>
<line x1="978.6" y1="1556.85" x2="991.3" y2="1556.85" stroke-width="2.75"/>
<line x1="166.87" y1="1410.82" x2="179.57" y2="1410.82" stroke-width="2.75"/>
<line x1="978.6" y1="1410.82" x2="991.3" y2="1410.82" stroke-width="2.75"/>
<line x1="166.87" y1="1264.78" x2="179.57" y2="1264.78" stroke-width="2.75"/>
<line x1="978.6" y1="1264.78" x2="991.3" y2="1264.78" stroke-width="2.75"/>
<line x1="166.87" y1="1118.75" x2="179.57" y2="1118.75" stroke-width="2.75"/>
<line x1="978.6" y1="1118.75" x2="991.3" y2="1118.75" stroke-width="2.75"/>
<line x1="166.87" y1="972.72" x2="179.57" y2="972.72" stroke-width="2.75"/>
<line x1="978.6" y1="972.72" x2="991.3" y2="972.72" stroke-width="2.75"/>
<line x1="173.07" y1="1483.83" x2="179.57" y2="1483.83" stroke-width="2.75"/>
<line x1="984.8" y1="1483.83" x2="991.3" y2="1483.83" stroke-width="2.75"/>
<line x1="173.07" y1="1337.8" x2="179.57" y2="1337.8" stroke-width="2.75"/>
<line x1="984.8" y1="1337.8" x2="991.3" y2="1337.8" stroke-width="2.75"/>
<line x1="173.07" y1="1191.77" x2="179.57" y2="1191.77" stroke-width="2.75"/>
<line x1="984.8" y1="1191.77" x2="991.3" y2="1191.77" stroke-width="2.75"/>
<line x1="173.07" y1="1045.73" x2="179.57" y2="1045.73" stroke-width="2.75"/>
<line x1="984.8" y1="1045.73" x2="991.3" y2="1045.73" stroke-width="2.75"/>
<line x1="173.07" y1="899.7" x2="179.57" y2="899.7" stroke-width="2.75"/>
<line x1="984.8" y1="899.7" x2="991.3" y2="899.7" stroke-width="2.75"/>
</g>
<text transform="translate(157.3,1565.45) scale(1,1.035)" font-size="27.5" text-anchor="end" stroke-width="0.48">0.0</text>
<text transform="translate(158.3,1421.22) scale(1,1.035)" font-size="27.7" text-anchor="end" stroke-width="0.48">5.0x10<tspan font-size="18.8" stroke-width="0.33" dx="0.4" dy="-11.4">7</tspan></text>
<text transform="translate(158.3,1275.18) scale(1,1.035)" font-size="27.7" text-anchor="end" stroke-width="0.48">1.0x10<tspan font-size="18.8" stroke-width="0.33" dx="0.4" dy="-11.4">8</tspan></text>
<text transform="translate(158.3,1129.15) scale(1,1.035)" font-size="27.7" text-anchor="end" stroke-width="0.48">1.5x10<tspan font-size="18.8" stroke-width="0.33" dx="0.4" dy="-11.4">8</tspan></text>
<text transform="translate(158.3,983.12) scale(1,1.035)" font-size="27.7" text-anchor="end" stroke-width="0.48">2.0x10<tspan font-size="18.8" stroke-width="0.33" dx="0.4" dy="-11.4">8</tspan></text>
<text transform="translate(179.87,1615.6) scale(1,1.035)" font-size="40.2" text-anchor="middle" stroke-width="0.7">10<tspan font-size="26" stroke-width="0.46" dx="2.5" dy="-16.14">1</tspan></text>
<text transform="translate(342.22,1615.6) scale(1,1.035)" font-size="40.2" text-anchor="middle" stroke-width="0.7">10<tspan font-size="26" stroke-width="0.46" dx="2.5" dy="-16.14">2</tspan></text>
<text transform="translate(504.56,1615.6) scale(1,1.035)" font-size="40.2" text-anchor="middle" stroke-width="0.7">10<tspan font-size="26" stroke-width="0.46" dx="2.5" dy="-16.14">3</tspan></text>
<text transform="translate(666.91,1615.6) scale(1,1.035)" font-size="40.2" text-anchor="middle" stroke-width="0.7">10<tspan font-size="26" stroke-width="0.46" dx="2.5" dy="-16.14">4</tspan></text>
<text transform="translate(829.25,1615.6) scale(1,1.035)" font-size="40.2" text-anchor="middle" stroke-width="0.7">10<tspan font-size="26" stroke-width="0.46" dx="2.5" dy="-16.14">5</tspan></text>
<text transform="translate(991.6,1615.6) scale(1,1.035)" font-size="40.2" text-anchor="middle" stroke-width="0.7">10<tspan font-size="26" stroke-width="0.46" dx="2.5" dy="-16.14">6</tspan></text>
<text transform="translate(616.5,1667) scale(1,1.035)" font-size="40.6" stroke-width="0.71">f (Hz)</text>
<text class="sf" transform="translate(35,1260.5) rotate(-90) scale(1,0.945)" font-size="48" stroke-width="0.2">ε</text>
<text transform="translate(39.9,1240.7) rotate(-90)" font-size="40" stroke-width="0.3">’</text>
<text transform="translate(39.9,1229.7) rotate(-90)" font-size="40" stroke-width="0.3">’</text>
<text transform="translate(789.6,1036.4) scale(1,1.035)" font-size="33" text-anchor="middle" stroke-width="0.7">(b)</text>
<g clip-path="url(#c2)">
<polyline points="179.57,1002.8 197.61,1127.87 215.65,1224.71 233.69,1299.68 251.72,1357.73 269.76,1402.68 287.8,1437.48 305.84,1464.43 323.88,1485.29 341.92,1501.44 359.95,1513.95 377.99,1523.64 396.03,1531.13 414.07,1536.94 432.11,1541.43 450.15,1544.91 468.19,1547.61 486.22,1549.69 504.26,1551.31 522.3,1552.56 540.34,1553.53 558.38,1554.28 576.42,1554.86 594.45,1555.31 612.49,1555.66 630.53,1555.93 648.57,1556.13 666.61,1556.3 684.65,1556.42 702.68,1556.52 720.72,1556.59 738.76,1556.65 756.8,1556.7 774.84,1556.73 792.88,1556.76 810.92,1556.78 828.95,1556.79 846.99,1556.81 865.03,1556.82 883.07,1556.82 901.11,1556.83 919.15,1556.83 937.18,1556.84 955.22,1556.84 973.26,1556.84 991.3,1556.84" fill="none" stroke="#515151" stroke-width="1.0" stroke-linejoin="round"/>
<rect x="172.47" y="995.7" width="14.2" height="14.2" fill="#515151"/>
<rect x="190.51" y="1120.77" width="14.2" height="14.2" fill="#515151"/>
<rect x="208.55" y="1217.61" width="14.2" height="14.2" fill="#515151"/>
<rect x="226.59" y="1292.58" width="14.2" height="14.2" fill="#515151"/>
<rect x="244.62" y="1350.63" width="14.2" height="14.2" fill="#515151"/>
<rect x="262.66" y="1395.58" width="14.2" height="14.2" fill="#515151"/>
<rect x="280.7" y="1430.38" width="14.2" height="14.2" fill="#515151"/>
<rect x="298.74" y="1457.33" width="14.2" height="14.2" fill="#515151"/>
<rect x="316.78" y="1478.19" width="14.2" height="14.2" fill="#515151"/>
<rect x="334.82" y="1494.34" width="14.2" height="14.2" fill="#515151"/>
<rect x="352.85" y="1506.85" width="14.2" height="14.2" fill="#515151"/>
<rect x="370.89" y="1516.54" width="14.2" height="14.2" fill="#515151"/>
<rect x="388.93" y="1524.03" width="14.2" height="14.2" fill="#515151"/>
<rect x="406.97" y="1529.84" width="14.2" height="14.2" fill="#515151"/>
<rect x="425.01" y="1534.33" width="14.2" height="14.2" fill="#515151"/>
<rect x="443.05" y="1537.81" width="14.2" height="14.2" fill="#515151"/>
<rect x="461.09" y="1540.51" width="14.2" height="14.2" fill="#515151"/>
<rect x="479.12" y="1542.59" width="14.2" height="14.2" fill="#515151"/>
<rect x="497.16" y="1544.21" width="14.2" height="14.2" fill="#515151"/>
<rect x="515.2" y="1545.46" width="14.2" height="14.2" fill="#515151"/>
<rect x="533.24" y="1546.43" width="14.2" height="14.2" fill="#515151"/>
<rect x="551.28" y="1547.18" width="14.2" height="14.2" fill="#515151"/>
<rect x="569.32" y="1547.76" width="14.2" height="14.2" fill="#515151"/>
<rect x="587.35" y="1548.21" width="14.2" height="14.2" fill="#515151"/>
<rect x="605.39" y="1548.56" width="14.2" height="14.2" fill="#515151"/>
<rect x="623.43" y="1548.83" width="14.2" height="14.2" fill="#515151"/>
<rect x="641.47" y="1549.03" width="14.2" height="14.2" fill="#515151"/>
<rect x="659.51" y="1549.2" width="14.2" height="14.2" fill="#515151"/>
<rect x="677.55" y="1549.32" width="14.2" height="14.2" fill="#515151"/>
<rect x="695.58" y="1549.42" width="14.2" height="14.2" fill="#515151"/>
<rect x="713.62" y="1549.49" width="14.2" height="14.2" fill="#515151"/>
<rect x="731.66" y="1549.55" width="14.2" height="14.2" fill="#515151"/>
<rect x="749.7" y="1549.6" width="14.2" height="14.2" fill="#515151"/>
<rect x="767.74" y="1549.63" width="14.2" height="14.2" fill="#515151"/>
<rect x="785.78" y="1549.66" width="14.2" height="14.2" fill="#515151"/>
<rect x="803.82" y="1549.68" width="14.2" height="14.2" fill="#515151"/>
<rect x="821.85" y="1549.69" width="14.2" height="14.2" fill="#515151"/>
<rect x="839.89" y="1549.71" width="14.2" height="14.2" fill="#515151"/>
<rect x="857.93" y="1549.72" width="14.2" height="14.2" fill="#515151"/>
<rect x="875.97" y="1549.72" width="14.2" height="14.2" fill="#515151"/>
<rect x="894.01" y="1549.73" width="14.2" height="14.2" fill="#515151"/>
<rect x="912.05" y="1549.73" width="14.2" height="14.2" fill="#515151"/>
<rect x="930.08" y="1549.74" width="14.2" height="14.2" fill="#515151"/>
<rect x="948.12" y="1549.74" width="14.2" height="14.2" fill="#515151"/>
<rect x="966.16" y="1549.74" width="14.2" height="14.2" fill="#515151"/>
<rect x="984.2" y="1549.74" width="14.2" height="14.2" fill="#515151"/>
<polyline points="179.57,1166.5 197.61,1254.62 215.65,1322.84 233.69,1375.67 251.72,1416.57 269.76,1448.23 287.8,1472.75 305.84,1491.74 323.88,1506.43 341.92,1517.82 359.95,1526.63 377.99,1533.45 396.03,1538.73 414.07,1542.82 432.11,1545.99 450.15,1548.44 468.19,1550.34 486.22,1551.81 504.26,1552.95 522.3,1553.83 540.34,1554.51 558.38,1555.04 576.42,1555.45 594.45,1555.76 612.49,1556.01 630.53,1556.2 648.57,1556.35 666.61,1556.46 684.65,1556.55 702.68,1556.62 720.72,1556.67 738.76,1556.71 756.8,1556.74 774.84,1556.77 792.88,1556.78 810.92,1556.8 828.95,1556.81 846.99,1556.82 865.03,1556.83 883.07,1556.83 901.11,1556.84 919.15,1556.84 937.18,1556.84 955.22,1556.84 973.26,1556.84 991.3,1556.85" fill="none" stroke="#F14040" stroke-width="1.0" stroke-linejoin="round"/>
<circle cx="179.57" cy="1166.5" r="8.1" fill="#F14040"/>
<circle cx="197.61" cy="1254.62" r="8.1" fill="#F14040"/>
<circle cx="215.65" cy="1322.84" r="8.1" fill="#F14040"/>
<circle cx="233.69" cy="1375.67" r="8.1" fill="#F14040"/>
<circle cx="251.72" cy="1416.57" r="8.1" fill="#F14040"/>
<circle cx="269.76" cy="1448.23" r="8.1" fill="#F14040"/>
<circle cx="287.8" cy="1472.75" r="8.1" fill="#F14040"/>
<circle cx="305.84" cy="1491.74" r="8.1" fill="#F14040"/>
<circle cx="323.88" cy="1506.43" r="8.1" fill="#F14040"/>
<circle cx="341.92" cy="1517.82" r="8.1" fill="#F14040"/>
<circle cx="359.95" cy="1526.63" r="8.1" fill="#F14040"/>
<circle cx="377.99" cy="1533.45" r="8.1" fill="#F14040"/>
<circle cx="396.03" cy="1538.73" r="8.1" fill="#F14040"/>
<circle cx="414.07" cy="1542.82" r="8.1" fill="#F14040"/>
<circle cx="432.11" cy="1545.99" r="8.1" fill="#F14040"/>
<circle cx="450.15" cy="1548.44" r="8.1" fill="#F14040"/>
<circle cx="468.19" cy="1550.34" r="8.1" fill="#F14040"/>
<circle cx="486.22" cy="1551.81" r="8.1" fill="#F14040"/>
<circle cx="504.26" cy="1552.95" r="8.1" fill="#F14040"/>
<circle cx="522.3" cy="1553.83" r="8.1" fill="#F14040"/>
<circle cx="540.34" cy="1554.51" r="8.1" fill="#F14040"/>
<circle cx="558.38" cy="1555.04" r="8.1" fill="#F14040"/>
<circle cx="576.42" cy="1555.45" r="8.1" fill="#F14040"/>
<circle cx="594.45" cy="1555.76" r="8.1" fill="#F14040"/>
<circle cx="612.49" cy="1556.01" r="8.1" fill="#F14040"/>
<circle cx="630.53" cy="1556.2" r="8.1" fill="#F14040"/>
<circle cx="648.57" cy="1556.35" r="8.1" fill="#F14040"/>
<circle cx="666.61" cy="1556.46" r="8.1" fill="#F14040"/>
<circle cx="684.65" cy="1556.55" r="8.1" fill="#F14040"/>
<circle cx="702.68" cy="1556.62" r="8.1" fill="#F14040"/>
<circle cx="720.72" cy="1556.67" r="8.1" fill="#F14040"/>
<circle cx="738.76" cy="1556.71" r="8.1" fill="#F14040"/>
<circle cx="756.8" cy="1556.74" r="8.1" fill="#F14040"/>
<circle cx="774.84" cy="1556.77" r="8.1" fill="#F14040"/>
<circle cx="792.88" cy="1556.78" r="8.1" fill="#F14040"/>
<circle cx="810.92" cy="1556.8" r="8.1" fill="#F14040"/>
<circle cx="828.95" cy="1556.81" r="8.1" fill="#F14040"/>
<circle cx="846.99" cy="1556.82" r="8.1" fill="#F14040"/>
<circle cx="865.03" cy="1556.83" r="8.1" fill="#F14040"/>
<circle cx="883.07" cy="1556.83" r="8.1" fill="#F14040"/>
<circle cx="901.11" cy="1556.84" r="8.1" fill="#F14040"/>
<circle cx="919.15" cy="1556.84" r="8.1" fill="#F14040"/>
<circle cx="937.18" cy="1556.84" r="8.1" fill="#F14040"/>
<circle cx="955.22" cy="1556.84" r="8.1" fill="#F14040"/>
<circle cx="973.26" cy="1556.84" r="8.1" fill="#F14040"/>
<circle cx="991.3" cy="1556.85" r="8.1" fill="#F14040"/>
<polyline points="179.57,1322.9 197.61,1375.71 215.65,1416.6 233.69,1448.26 251.72,1472.77 269.76,1491.75 287.8,1506.45 305.84,1517.83 323.88,1526.63 341.92,1533.46 359.95,1538.74 377.99,1542.83 396.03,1545.99 414.07,1548.44 432.11,1550.34 450.15,1551.81 468.19,1552.95 486.22,1553.83 504.26,1554.51 522.3,1555.04 540.34,1555.45 558.38,1555.76 576.42,1556.01 594.45,1556.2 612.49,1556.35 630.53,1556.46 648.57,1556.55 666.61,1556.62 684.65,1556.67 702.68,1556.71 720.72,1556.74 738.76,1556.77 756.8,1556.78 774.84,1556.8 792.88,1556.81 810.92,1556.82 828.95,1556.83 846.99,1556.83 865.03,1556.84 883.07,1556.84 901.11,1556.84 919.15,1556.84 937.18,1556.84 955.22,1556.85 973.26,1556.85 991.3,1556.85" fill="none" stroke="#1A6FDF" stroke-width="1.3" stroke-linejoin="round"/>
<polygon points="169.77,1328.56 189.37,1328.56 179.57,1311.59" fill="#1A6FDF"/>
<polygon points="187.81,1381.37 207.41,1381.37 197.61,1364.4" fill="#1A6FDF"/>
<polygon points="205.85,1422.26 225.45,1422.26 215.65,1405.29" fill="#1A6FDF"/>
<polygon points="223.89,1453.92 243.49,1453.92 233.69,1436.95" fill="#1A6FDF"/>
<polygon points="241.92,1478.43 261.52,1478.43 251.72,1461.46" fill="#1A6FDF"/>
<polygon points="259.96,1497.41 279.56,1497.41 269.76,1480.44" fill="#1A6FDF"/>
<polygon points="278,1512.11 297.6,1512.11 287.8,1495.13" fill="#1A6FDF"/>
<polygon points="296.04,1523.48 315.64,1523.48 305.84,1506.51" fill="#1A6FDF"/>
<polygon points="314.08,1532.29 333.68,1532.29 323.88,1515.32" fill="#1A6FDF"/>
<polygon points="332.12,1539.11 351.72,1539.11 341.92,1522.14" fill="#1A6FDF"/>
<polygon points="350.15,1544.39 369.75,1544.39 359.95,1527.42" fill="#1A6FDF"/>
<polygon points="368.19,1548.48 387.79,1548.48 377.99,1531.51" fill="#1A6FDF"/>
<polygon points="386.23,1551.65 405.83,1551.65 396.03,1534.68" fill="#1A6FDF"/>
<polygon points="404.27,1554.1 423.87,1554.1 414.07,1537.13" fill="#1A6FDF"/>
<polygon points="422.31,1556 441.91,1556 432.11,1539.02" fill="#1A6FDF"/>
<polygon points="440.35,1557.47 459.95,1557.47 450.15,1540.49" fill="#1A6FDF"/>
<polygon points="458.39,1558.61 477.99,1558.61 468.19,1541.63" fill="#1A6FDF"/>
<polygon points="476.42,1559.49 496.02,1559.49 486.22,1542.51" fill="#1A6FDF"/>
<polygon points="494.46,1560.17 514.06,1560.17 504.26,1543.19" fill="#1A6FDF"/>
<polygon points="512.5,1560.7 532.1,1560.7 522.3,1543.72" fill="#1A6FDF"/>
<polygon points="530.54,1561.11 550.14,1561.11 540.34,1544.13" fill="#1A6FDF"/>
<polygon points="548.58,1561.42 568.18,1561.42 558.38,1544.45" fill="#1A6FDF"/>
<polygon points="566.62,1561.67 586.22,1561.67 576.42,1544.69" fill="#1A6FDF"/>
<polygon points="584.65,1561.86 604.25,1561.86 594.45,1544.88" fill="#1A6FDF"/>
<polygon points="602.69,1562 622.29,1562 612.49,1545.03" fill="#1A6FDF"/>
<polygon points="620.73,1562.12 640.33,1562.12 630.53,1545.14" fill="#1A6FDF"/>
<polygon points="638.77,1562.21 658.37,1562.21 648.57,1545.23" fill="#1A6FDF"/>
<polygon points="656.81,1562.27 676.41,1562.27 666.61,1545.3" fill="#1A6FDF"/>
<polygon points="674.85,1562.33 694.45,1562.33 684.65,1545.35" fill="#1A6FDF"/>
<polygon points="692.88,1562.37 712.48,1562.37 702.68,1545.39" fill="#1A6FDF"/>
<polygon points="710.92,1562.4 730.52,1562.4 720.72,1545.43" fill="#1A6FDF"/>
<polygon points="728.96,1562.42 748.56,1562.42 738.76,1545.45" fill="#1A6FDF"/>
<polygon points="747,1562.44 766.6,1562.44 756.8,1545.47" fill="#1A6FDF"/>
<polygon points="765.04,1562.46 784.64,1562.46 774.84,1545.48" fill="#1A6FDF"/>
<polygon points="783.08,1562.47 802.68,1562.47 792.88,1545.5" fill="#1A6FDF"/>
<polygon points="801.12,1562.48 820.72,1562.48 810.92,1545.5" fill="#1A6FDF"/>
<polygon points="819.15,1562.48 838.75,1562.48 828.95,1545.51" fill="#1A6FDF"/>
<polygon points="837.19,1562.49 856.79,1562.49 846.99,1545.52" fill="#1A6FDF"/>
<polygon points="855.23,1562.49 874.83,1562.49 865.03,1545.52" fill="#1A6FDF"/>
<polygon points="873.27,1562.5 892.87,1562.5 883.07,1545.52" fill="#1A6FDF"/>
<polygon points="891.31,1562.5 910.91,1562.5 901.11,1545.53" fill="#1A6FDF"/>
<polygon points="909.35,1562.5 928.95,1562.5 919.15,1545.53" fill="#1A6FDF"/>
<polygon points="927.38,1562.5 946.98,1562.5 937.18,1545.53" fill="#1A6FDF"/>
<polygon points="945.42,1562.5 965.02,1562.5 955.22,1545.53" fill="#1A6FDF"/>
<polygon points="963.46,1562.5 983.06,1562.5 973.26,1545.53" fill="#1A6FDF"/>
<polygon points="981.5,1562.51 1001.1,1562.51 991.3,1545.53" fill="#1A6FDF"/>
<polyline points="179.57,1465.2 197.61,1488.1 215.65,1504 233.69,1516.9 251.72,1526.1 269.76,1533.1 287.8,1538.4 305.84,1542.8 323.88,1546.4 341.92,1548.7 359.95,1550.62 377.99,1552.09 396.03,1553.22 414.07,1554.07 432.11,1554.73 450.15,1555.23 468.19,1555.61 486.22,1555.9 504.26,1556.13 522.3,1556.3 540.34,1556.43 558.38,1556.53 576.42,1556.6 594.45,1556.66 612.49,1556.71 630.53,1556.74 648.57,1556.77 666.61,1556.79 684.65,1556.8 702.68,1556.81 720.72,1556.82 738.76,1556.83 756.8,1556.83 774.84,1556.84 792.88,1556.84 810.92,1556.84 828.95,1556.84 846.99,1556.85 865.03,1556.85 883.07,1556.85 901.11,1556.85 919.15,1556.85 937.18,1556.85 955.22,1556.85 973.26,1556.85 991.3,1556.85" fill="none" stroke="#37AD6B" stroke-width="1.0" stroke-linejoin="round"/>
<polygon points="169.77,1459.54 189.37,1459.54 179.57,1476.52" fill="#37AD6B"/>
<polygon points="187.81,1482.44 207.41,1482.44 197.61,1499.42" fill="#37AD6B"/>
<polygon points="205.85,1498.34 225.45,1498.34 215.65,1515.32" fill="#37AD6B"/>
<polygon points="223.89,1511.24 243.49,1511.24 233.69,1528.22" fill="#37AD6B"/>
<polygon points="241.92,1520.44 261.52,1520.44 251.72,1537.42" fill="#37AD6B"/>
<polygon points="259.96,1527.44 279.56,1527.44 269.76,1544.42" fill="#37AD6B"/>
<polygon points="278,1532.74 297.6,1532.74 287.8,1549.72" fill="#37AD6B"/>
<polygon points="296.04,1537.14 315.64,1537.14 305.84,1554.12" fill="#37AD6B"/>
<polygon points="314.08,1540.74 333.68,1540.74 323.88,1557.72" fill="#37AD6B"/>
<polygon points="332.12,1543.04 351.72,1543.04 341.92,1560.02" fill="#37AD6B"/>
<polygon points="350.15,1544.97 369.75,1544.97 359.95,1561.94" fill="#37AD6B"/>
<polygon points="368.19,1546.44 387.79,1546.44 377.99,1563.41" fill="#37AD6B"/>
<polygon points="386.23,1547.56 405.83,1547.56 396.03,1564.53" fill="#37AD6B"/>
<polygon points="404.27,1548.42 423.87,1548.42 414.07,1565.39" fill="#37AD6B"/>
<polygon points="422.31,1549.07 441.91,1549.07 432.11,1566.04" fill="#37AD6B"/>
<polygon points="440.35,1549.57 459.95,1549.57 450.15,1566.54" fill="#37AD6B"/>
<polygon points="458.39,1549.95 477.99,1549.95 468.19,1566.93" fill="#37AD6B"/>
<polygon points="476.42,1550.25 496.02,1550.25 486.22,1567.22" fill="#37AD6B"/>
<polygon points="494.46,1550.47 514.06,1550.47 504.26,1567.44" fill="#37AD6B"/>
<polygon points="512.5,1550.64 532.1,1550.64 522.3,1567.61" fill="#37AD6B"/>
<polygon points="530.54,1550.77 550.14,1550.77 540.34,1567.74" fill="#37AD6B"/>
<polygon points="548.58,1550.87 568.18,1550.87 558.38,1567.84" fill="#37AD6B"/>
<polygon points="566.62,1550.95 586.22,1550.95 576.42,1567.92" fill="#37AD6B"/>
<polygon points="584.65,1551 604.25,1551 594.45,1567.98" fill="#37AD6B"/>
<polygon points="602.69,1551.05 622.29,1551.05 612.49,1568.02" fill="#37AD6B"/>
<polygon points="620.73,1551.08 640.33,1551.08 630.53,1568.06" fill="#37AD6B"/>
<polygon points="638.77,1551.11 658.37,1551.11 648.57,1568.08" fill="#37AD6B"/>
<polygon points="656.81,1551.13 676.41,1551.13 666.61,1568.1" fill="#37AD6B"/>
<polygon points="674.85,1551.14 694.45,1551.14 684.65,1568.12" fill="#37AD6B"/>
<polygon points="692.88,1551.15 712.48,1551.15 702.68,1568.13" fill="#37AD6B"/>
<polygon points="710.92,1551.16 730.52,1551.16 720.72,1568.14" fill="#37AD6B"/>
<polygon points="728.96,1551.17 748.56,1551.17 738.76,1568.14" fill="#37AD6B"/>
<polygon points="747,1551.18 766.6,1551.18 756.8,1568.15" fill="#37AD6B"/>
<polygon points="765.04,1551.18 784.64,1551.18 774.84,1568.15" fill="#37AD6B"/>
<polygon points="783.08,1551.18 802.68,1551.18 792.88,1568.16" fill="#37AD6B"/>
<polygon points="801.12,1551.18 820.72,1551.18 810.92,1568.16" fill="#37AD6B"/>
<polygon points="819.15,1551.19 838.75,1551.19 828.95,1568.16" fill="#37AD6B"/>
<polygon points="837.19,1551.19 856.79,1551.19 846.99,1568.16" fill="#37AD6B"/>
<polygon points="855.23,1551.19 874.83,1551.19 865.03,1568.16" fill="#37AD6B"/>
<polygon points="873.27,1551.19 892.87,1551.19 883.07,1568.16" fill="#37AD6B"/>
<polygon points="891.31,1551.19 910.91,1551.19 901.11,1568.16" fill="#37AD6B"/>
<polygon points="909.35,1551.19 928.95,1551.19 919.15,1568.16" fill="#37AD6B"/>
<polygon points="927.38,1551.19 946.98,1551.19 937.18,1568.16" fill="#37AD6B"/>
<polygon points="945.42,1551.19 965.02,1551.19 955.22,1568.16" fill="#37AD6B"/>
<polygon points="963.46,1551.19 983.06,1551.19 973.26,1568.17" fill="#37AD6B"/>
<polygon points="981.5,1551.19 1001.1,1551.19 991.3,1568.17" fill="#37AD6B"/>
</g>
</svg></body></html>
